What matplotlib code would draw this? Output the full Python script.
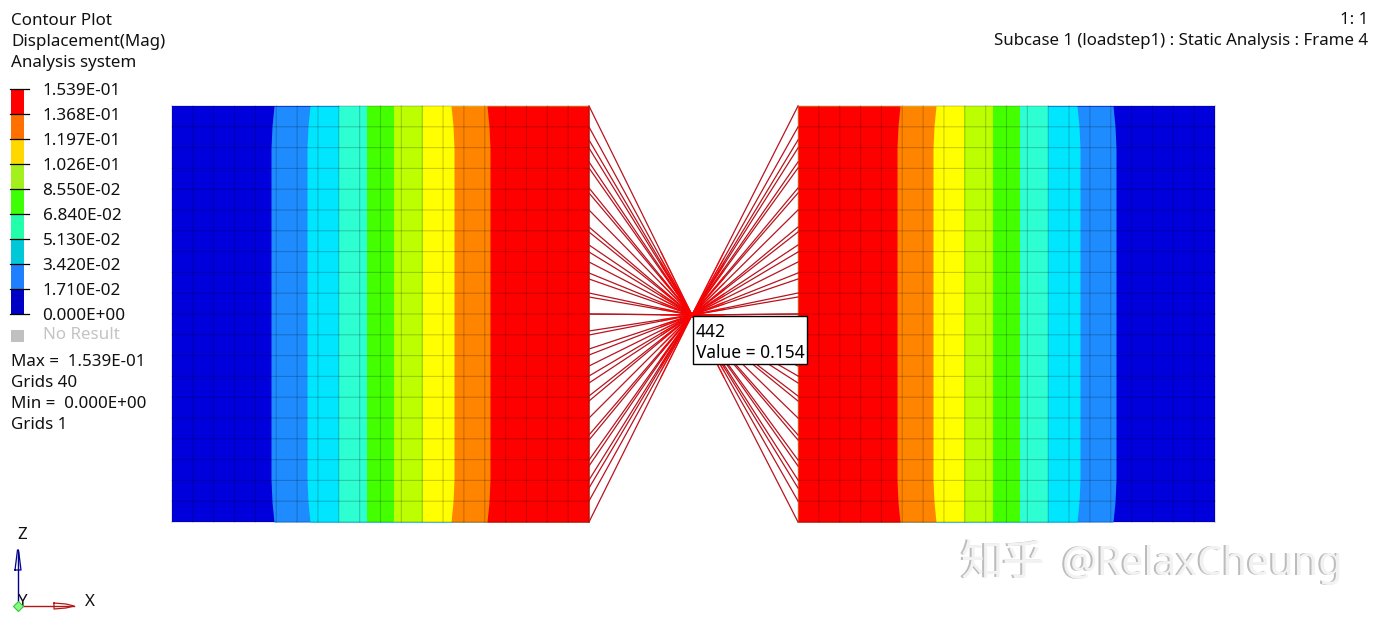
"""Contour plot of displacement on two meshed plates joined by a rigid spider."""

import matplotlib

matplotlib.use("Agg")
import matplotlib.pyplot as plt
import numpy as np

plt.rcParams["font.family"] = ["Noto Sans", "Noto Sans CJK SC", "DejaVu Sans"]

# legend
legend_labels = ["1.539E-01", "1.368E-01", "1.197E-01", "1.026E-01", "8.550E-02",
                 "6.840E-02", "5.130E-02", "3.420E-02", "1.710E-02", "0.000E+00"]
legend_colors = ["#fe0000", "#ff7000", "#ffd800", "#a4f01c", "#3dff06",
                 "#22ffaa", "#00c8d8", "#1e80ff", "#0000c4"]
band_colors = ["#0000dc", "#1e8cff", "#00e6ff", "#2dffd2", "#44ff00",
               "#bcff00", "#ffff00", "#ff8400", "#ff0000"]

header_lines = ["Contour Plot", "Displacement(Mag)", "Analysis system"]
stats_lines = ["Max =  1.539E-01", "Grids 40", "Min =  0.000E+00", "Grids 1"]
title_right = ["1: 1", "Subcase 1 (loadstep1) : Static Analysis : Frame 4"]

# band boundaries across the left plate, read at the top edge, part way down and mid height
edge_top = [274, 310, 339, 367, 394, 423, 451, 487]
edge_knee = [272, 308, 339, 367, 394, 423, 453, 489]
edge_mid = [271, 307, 339, 367, 394, 423, 454, 490]
knee_offsets = [0, 20, 42]

# plate extents
plate_left, plate_right = 172, 589
plate_top, plate_bottom = 106, 522
mirror_sum = 1387
n_cols, n_rows = 20, 20

# spider
hub = (692, 315)
spider_offsets = [0, 17, 21, 35, 41, 52, 62, 69, 82, 87, 104, 121, 126, 146, 152, 166, 174, 187, 208]


def draw_plate(ax, flip):
    y = np.array([plate_top + knee_offsets[0], plate_top + knee_offsets[1], plate_top + knee_offsets[2],
                  plate_bottom - knee_offsets[2], plate_bottom - knee_offsets[1], plate_bottom - knee_offsets[0]])
    tx = (lambda v: mirror_sum - np.asarray(v, dtype=float)) if flip else (lambda v: np.asarray(v, dtype=float))

    ax.fill_between(tx([plate_left, plate_right]), plate_top, plate_bottom, color=band_colors[0], lw=0, zorder=1)
    for i, color in enumerate(band_colors[1:]):
        edge = np.array([edge_top[i], edge_knee[i], edge_mid[i], edge_mid[i], edge_knee[i], edge_top[i]])
        ax.fill_betweenx(y, tx(edge), tx(np.full(6, plate_right)), color=color, lw=0, zorder=1 + i * 0.01 + 0.01)

    for x in np.linspace(plate_left, plate_right, n_cols + 1):
        ax.plot(tx([x, x]), [plate_top, plate_bottom], color="#000000", alpha=0.2, lw=0.8, zorder=2, snap=False)
    for row in np.linspace(plate_top, plate_bottom, n_rows + 1):
        ax.plot(tx([plate_left, plate_right]), [row, row], color="#000000", alpha=0.2, lw=0.8, zorder=2, snap=False)

    edge_x = float(tx(plate_right))
    for off in spider_offsets:
        for node_y in (hub[1] - off - 1, hub[1] + off - 1):
            ax.plot([edge_x, hub[0]], [node_y, hub[1]], color="#b8141e", lw=0.9, zorder=3)
            # lines merge into solid red close to the hub
            near_x = hub[0] + 0.3 * (edge_x - hub[0])
            near_y = hub[1] + 0.3 * (node_y - hub[1])
            ax.plot([near_x, hub[0]], [near_y, hub[1]], color="#ff0000", lw=0.9, alpha=0.7, zorder=3.1)


fig = plt.figure(figsize=(13.76, 6.24), dpi=100)
ax = fig.add_axes([0, 0, 1, 1])
ax.set_xlim(0, 1376)
ax.set_ylim(624, 0)
ax.axis("off")

draw_plate(ax, False)
draw_plate(ax, True)

# tooltip
ax.add_patch(plt.Rectangle((693, 316), 114, 48, fc="white", ec="black", lw=1, zorder=4))
ax.text(696, 332, "442", fontsize=12.5, va="center", color="black", zorder=5)
ax.text(696, 353, "Value = 0.154", fontsize=12.5, va="center", color="black", zorder=5)

# header and legend
for i, line in enumerate(header_lines):
    ax.text(11, 21 + 21 * i, line, fontsize=12.2, va="center", color="#111111")
for i, color in enumerate(legend_colors):
    ax.add_patch(plt.Rectangle((11, 89 + 25 * i), 13, 25, fc=color, ec="none"))
for i, label in enumerate(legend_labels):
    ax.plot([10, 29], [89 + 25 * i, 89 + 25 * i], color="black", lw=0.9)
    ax.text(42.5, 91 + 25 * i, label, fontsize=12.3, va="center", color="#111111")
ax.add_patch(plt.Rectangle((11, 330), 13, 12, fc="#c0c0c0", ec="none"))
ax.text(43, 335, "No Result", fontsize=12.2, va="center", color="#c4c4c4")
for i, line in enumerate(stats_lines):
    ax.text(11, 362 + 21 * i, line, fontsize=12.2, va="center", color="#111111")

for i, line in enumerate(title_right):
    ax.text(1368, 20 + 21 * i, line, fontsize=12.15, va="center", ha="right", color="#111111")

# triad
ax.plot([18, 18], [605, 552], color="#00008c", lw=1)
ax.plot([15, 21, 19.5, 18.5, 17.5, 16.5, 15], [570, 570, 558, 550, 550, 558, 570], color="#00008c", lw=0.9)
ax.plot([18, 74], [606, 606], color="#b01818", lw=1)
ax.plot([54, 54, 66, 74, 66, 54], [603, 609, 608, 606, 604, 603], color="#b01818", lw=0.9)
ax.plot([18], [606], marker="D", ms=5, mfc="#80ff80", mec="#40c040", mew=0.8, zorder=6)
ax.text(22, 535, "Z", fontsize=12.2, va="center", ha="center", color="#111111")
ax.text(22, 602, "Y", fontsize=12.2, va="center", ha="center", color="#111111")
ax.text(90, 602, "X", fontsize=12.2, va="center", ha="center", color="#111111")

# watermark
for dx, color in ((0, "#bcbcbc"), (1.5, "#f2f2f2")):
    ax.text(959 + dx, 565, "知乎", fontsize=30.5, va="center", color=color, zorder=7)
    ax.text(1060 + dx, 565, "@RelaxCheung", fontsize=28.6, va="center", color=color, zorder=7)

fig.savefig("out.png", dpi=100)
plt.close(fig)
